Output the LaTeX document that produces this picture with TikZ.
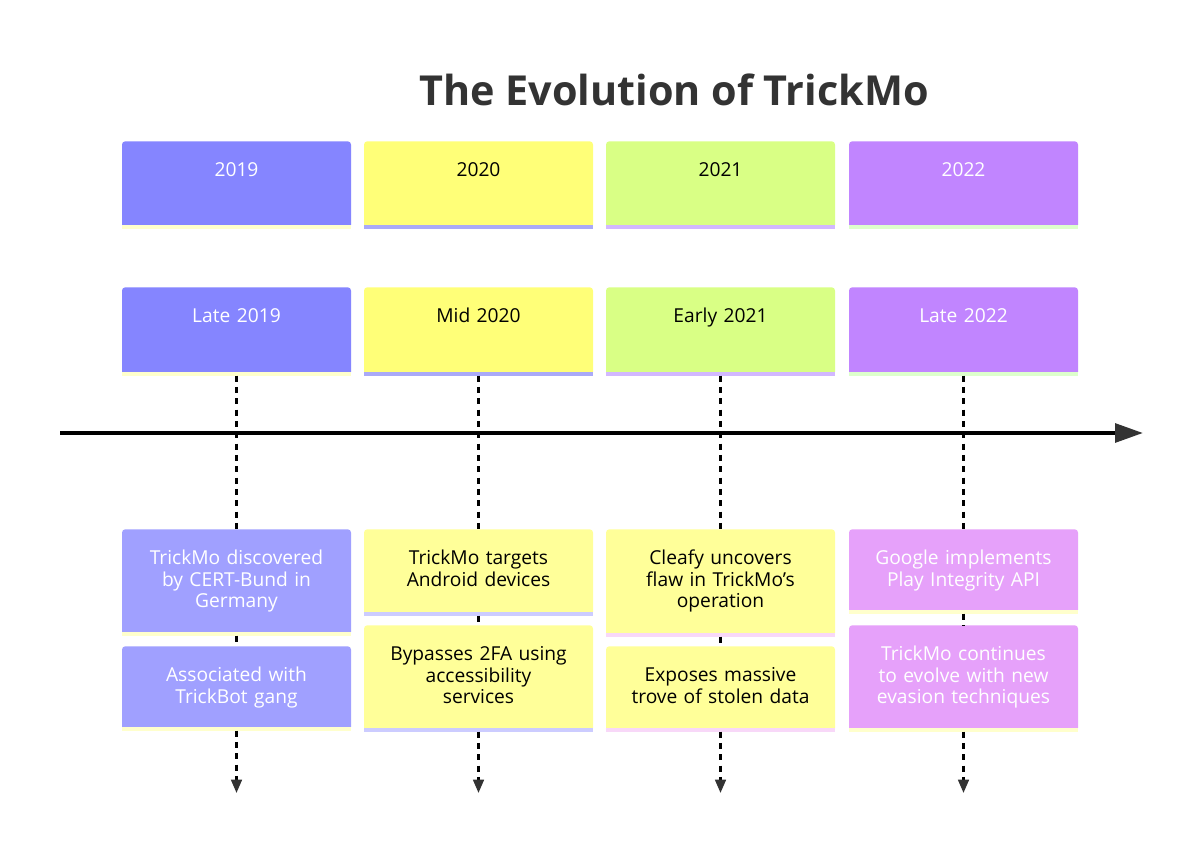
\documentclass[tikz,border=0pt]{standalone}
\usepackage{fontspec}
\setmainfont{Open Sans}
\usetikzlibrary{arrows.meta}
\definecolor{titlec}{HTML}{333333}
\definecolor{tipc}{HTML}{333333}
\definecolor{cA}{HTML}{8585FF}
\definecolor{cB}{HTML}{FFFF78}
\definecolor{cC}{HTML}{D9FF85}
\definecolor{cD}{HTML}{C185FF}
\definecolor{cAl}{HTML}{A0A0FF}
\definecolor{cBl}{HTML}{FFFF99}
\definecolor{cDl}{HTML}{E6A1FA}
\definecolor{sYel}{HTML}{FFFFCC}
\definecolor{sLav}{HTML}{AAAAF8}
\definecolor{sLavl}{HTML}{CCCCFF}
\definecolor{sPur}{HTML}{D2B8FF}
\definecolor{sPink}{HTML}{F8D8F8}
\definecolor{sGrn}{HTML}{DDFFCC}
\tikzset{
  evbg/.style={rectangle, draw=none, rounded corners=2.5pt, minimum width=171.75pt, inner sep=0pt, anchor=north},
  evtxt/.style={font=\fontsize{14.4}{16.1}\selectfont, text width=170pt, align=center, inner sep=0pt, anchor=base},
  dline/.style={draw=black, line width=1.9pt, dash pattern=on 4.5pt off 4pt},
  dtip/.style={-{Triangle[length=10pt,width=8pt,fill=tipc,color=tipc]}},
}
% name, cx, top, fill height, fill colour, strip colour, text colour, text
\newcommand\evbox[8]{%
  \node[evbg, fill=#5, minimum height={(#4+4)*0.75pt}] (#1) at (#2,#3) {};
  \fill[#6] (#1.south west) rectangle ([yshift=3pt]#1.south east);
  \node[evtxt, text=#7] (#1t) at ([yshift=-26.8pt]#1.north) {#8};
}
\begin{document}
\begin{tikzpicture}[x=0.75pt,y=-0.75pt]
\useasboundingbox (0,0) rectangle (1200,852);
\fill[white] (0,0) rectangle (1200,852);

\node[font=\bfseries\fontsize{31}{36}\selectfont, text=titlec, inner sep=0pt] (title) at (674,90) {The Evolution of TrickMo};

% row 1: years
\evbox{y1}{236.5}{141}{83}{cA}{sYel}{white}{2019}
\evbox{y2}{478.5}{141}{83}{cB}{sLav}{black}{2020}
\evbox{y3}{720.5}{141}{83}{cC}{sPur}{black}{2021}
\evbox{y4}{963.5}{141}{83}{cD}{sGrn}{white}{2022}

% row 2: periods
\evbox{p1}{236.5}{287}{84}{cA}{sYel}{white}{Late 2019}
\evbox{p2}{478.5}{287}{84}{cB}{sLav}{black}{Mid 2020}
\evbox{p3}{720.5}{287}{84}{cC}{sPur}{black}{Early 2021}
\evbox{p4}{963.5}{287}{84}{cD}{sGrn}{white}{Late 2022}

% events
\evbox{a1}{236.5}{529}{102}{cAl}{sYel}{white}{TrickMo discovered\\by CERT-Bund in\\Germany}
\evbox{b1}{236.5}{646}{80}{cAl}{sYel}{white}{Associated with\\TrickBot gang}
\evbox{a2}{478.5}{529}{82}{cBl}{sLavl}{black}{TrickMo targets\\Android devices}
\evbox{b2}{478.5}{625}{102}{cBl}{sLavl}{black}{Bypasses 2FA using\\accessibility\\services}
\evbox{a3}{720.5}{529}{103}{cBl}{sPink}{black}{Cleafy uncovers\\flaw in TrickMo’s\\operation}
\evbox{b3}{720.5}{646}{81}{cBl}{sPink}{black}{Exposes massive\\trove of stolen data}
\evbox{a4}{963.5}{529}{80}{cDl}{sYel}{white}{Google implements\\Play Integrity API}
\evbox{b4}{963.5}{625}{102}{cDl}{sYel}{white}{TrickMo continues\\to evolve with new\\evasion techniques}

% end points
\coordinate (e1) at (236.5,793);
\coordinate (e2) at (478.5,793);
\coordinate (e3) at (720.5,793);
\coordinate (e4) at (963.5,793);
\coordinate (axL) at (60,433);
\coordinate (axR) at (1143,433);

% dashed connectors
\foreach \i in {1,2,3,4}{
  \draw[dline] (p\i.south) -- (a\i.north);
  \draw[dline] (a\i.south) -- (b\i.north);
  \draw[dline, dtip] (b\i.south) -- (e\i);
}

% time axis
\draw[line width=3pt, black, -{Triangle[length=21pt,width=14pt,fill=tipc,color=tipc]}] (axL) -- (axR);
\end{tikzpicture}
\end{document}
